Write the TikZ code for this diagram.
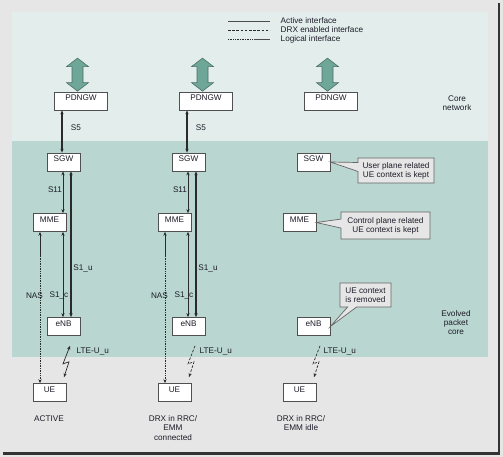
\documentclass[tikz,border=0pt]{standalone}
\usepackage{fontspec}
\setmainfont{Liberation Sans}
\usetikzlibrary{arrows.meta,shapes.callouts,calc}
\definecolor{bgc}{HTML}{E6E6E6}
\definecolor{topc}{HTML}{E3EEEC}
\definecolor{lowc}{HTML}{B9D6D0}
\definecolor{fatc}{HTML}{6EA697}
\definecolor{fatd}{HTML}{4A6F66}
\definecolor{linec}{HTML}{2A2A2A}
\definecolor{boxd}{HTML}{505050}
\definecolor{txt}{HTML}{1C1C28}
\begin{document}
\begin{tikzpicture}[x=1pt,y=-1pt,
  font=\fontsize{8.2}{9.2}\selectfont, text=txt,
  box/.style={draw=boxd, fill=white, line width=0.7pt, inner xsep=0pt, inner ysep=0pt,
    minimum width=33pt, minimum height=18pt, text height=8.8pt, text depth=9.2pt},
  lbl/.style={inner sep=0.5pt},
  conn/.style={draw=linec, line width=0.7pt},
  thk/.style={draw=linec, line width=1.5pt},
  dots/.style={dash pattern=on 0.8pt off 0.9pt},
  dsh/.style={dash pattern=on 2.6pt off 1.6pt},
  fat/.style={fill=fatc, draw=fatd, line width=0.6pt, line join=miter},
  callbox/.style={rectangle callout, draw=gray!80!black, fill=bgc, line width=0.7pt,
    align=center, inner sep=1pt, callout pointer width=9pt}
]
\useasboundingbox (0,0) rectangle (503,457);
\fill[bgc] (0,0) rectangle (503,457);
\fill[topc] (12,12) rectangle (488,141);
\fill[lowc] (12,141) rectangle (488,357);
\draw[gray!40!black, line width=2.5pt] (499,3) -- (499,453.5) -- (3,453.5);

% legend
\node[lbl, anchor=west] (lg1) at (280,21) {Active interface};
\node[lbl, anchor=west] (lg2) at (280,30) {DRX enabled interface};
\node[lbl, anchor=west] (lg3) at (280,39) {Logical interface};
\draw[draw=gray!60!black, line width=1.2pt] ($(lg1.west)+(-52,0.5)$) -- ($(lg1.west)+(-10,0.5)$);
\draw[conn, dsh] ($(lg2.west)+(-52,0.5)$) -- ($(lg2.west)+(-10,0.5)$);
\draw[conn, dots] ($(lg3.west)+(-52,0.5)$) -- ($(lg3.west)+(-26,0.5)$);
\draw[draw=gray!60!black, line width=1.2pt] ($(lg3.west)+(-26,0.5)$) -- ($(lg3.west)+(-10,0.5)$);

% side labels
\node[lbl, align=center] (core) at (457,103.5) {Core\\network};
\node[lbl, align=center] (epc) at (456,322.5) {Evolved\\packet\\core};

% nodes column 1
\node[box, minimum width=53pt] (pdn1) at (81,101) {PDNGW};
\node[box] (sgw1) at (63.5,162) {SGW};
\node[box] (mme1) at (49.5,222.5) {MME};
\node[box] (enb1) at (63.5,326.5) {eNB};
\node[box] (ue1) at (49.5,392.5) {UE};
% column 2
\node[box, minimum width=53pt] (pdn2) at (206,101) {PDNGW};
\node[box] (sgw2) at (188.5,162) {SGW};
\node[box] (mme2) at (174.5,222.5) {MME};
\node[box] (enb2) at (188.5,326.5) {eNB};
\node[box] (ue2) at (174.5,392.5) {UE};
% column 3
\node[box, minimum width=53pt] (pdn3) at (331,101) {PDNGW};
\node[box] (sgw3) at (313.5,162) {SGW};
\node[box] (mme3) at (299.5,222.5) {MME};
\node[box] (enb3) at (313.5,326.5) {eNB};
\node[box] (ue3) at (299.5,392.5) {UE};

% fat arrows
\foreach \p in {pdn1,pdn2,pdn3}{
  \draw[fat] ($(\p.north)+(-3.5,-0.5)$) -- ++(-11,-8.5) -- ++(5.5,0) -- ++(0,-16) -- ++(-5.5,0)
    -- ++(11,-8.5) -- ++(11,8.5) -- ++(-5.5,0) -- ++(0,16) -- ++(5.5,0) -- cycle;
}

% connectors columns 1 and 2
\foreach \c in {1,2}{
  \draw[thk, {Stealth[length=4pt,width=3.4pt]}-{Stealth[length=4pt,width=3.4pt]}] ($(sgw\c.north |- pdn\c.south)+(-1.5,0)$) -- ($(sgw\c.north)+(-1.5,0)$);
  \draw[conn, {Stealth[length=4pt,width=3.2pt]}-{Stealth[length=4pt,width=3.2pt]}] ($(sgw\c.south)+(-0.5,0)$) -- ($(sgw\c.south |- mme\c.north)+(-0.5,0)$);
  \draw[thk, {Stealth[length=4pt,width=3.4pt]}-{Stealth[length=4pt,width=3.4pt]}] ($(sgw\c.south)+(7.5,0)$) -- ($(sgw\c.south |- enb\c.north)+(7.5,0)$);
  \draw[conn, {Stealth[length=4pt,width=3.2pt]}-{Stealth[length=4pt,width=3.2pt]}] ($(sgw\c.south |- mme\c.south)+(-0.5,0)$) -- ($(enb\c.north)+(-0.5,0)$);
  \coordinate (nas\c) at ($(mme\c.south)+(-9.5,24)$);
  \draw[conn, -{Stealth[length=4pt,width=3.2pt]}] (nas\c) -- ($(mme\c.south)+(-9.5,0)$);
  \draw[conn, dots, -{Stealth[length=4pt,width=3.2pt]}] (nas\c) -- ($(ue\c.north)+(-9.5,0)$);
}
% lightning links
\draw[conn, {Stealth[length=4pt,width=3.2pt]}-{Stealth[length=4pt,width=3.2pt]}] ($(enb1.south)+(6.5,10)$) -- ++(-7,18) -- ++(6,-2) -- ($(ue1.north)+(14.5,-6)$);
\draw[conn, dsh, -{Stealth[length=4pt,width=3.2pt]}] ($(enb2.south)+(6.5,10)$) -- ++(-7,18) -- ++(6,-2) -- ($(ue2.north)+(14.5,-6)$);
\draw[conn, dsh, -{Stealth[length=4pt,width=3.2pt]}] ($(enb3.south)+(6.5,10)$) -- ++(-7,18) -- ++(6,-2) -- ($(ue3.north)+(14.5,-6)$);

% labels
\node[lbl] (s5a) at (76,127.5) {S5};
\node[lbl] (s5b) at (201,127.5) {S5};
\node[lbl] (s11a) at (55,190) {S11};
\node[lbl] (s11b) at (180,190) {S11};
\node[lbl] (s1ua) at (83,268) {S1\_u};
\node[lbl] (s1ub) at (208,268) {S1\_u};
\node[lbl] (s1ca) at (59,295.5) {S1\_c};
\node[lbl] (s1cb) at (184,295.5) {S1\_c};
\node[lbl] (nasa) at (34.5,295.5) {NAS};
\node[lbl] (nasb) at (159.5,295.5) {NAS};
\node[lbl, anchor=west] (ltea) at (76,351.5) {LTE-U\_u};
\node[lbl, anchor=west] (lteb) at (199,351.5) {LTE-U\_u};
\node[lbl, anchor=west] (ltec) at (323,351.5) {LTE-U\_u};

% callouts
\node[callbox, minimum width=76pt, minimum height=25pt, callout absolute pointer={(sgw3.east)}] (c1) at (396,170.5) {User plane related\\UE context is kept};
\node[callbox, minimum width=89pt, minimum height=27pt, callout absolute pointer={(mme3.east)}] (c2) at (385.5,225.5) {Control plane related\\UE context is kept};
\node[callbox, minimum width=51pt, minimum height=24pt, callout absolute pointer={(enb3.east)}] (c3) at (365.5,295) {UE context\\is removed};

% bottom labels
\node[lbl, anchor=north, align=center] (st1) at (49,415) {ACTIVE};
\node[lbl, anchor=north, align=center] (st2) at (173,415) {DRX in RRC/\\EMM\\connected};
\node[lbl, anchor=north, align=center] (st3) at (301,415) {DRX in RRC/\\EMM idle};
\end{tikzpicture}
\end{document}
